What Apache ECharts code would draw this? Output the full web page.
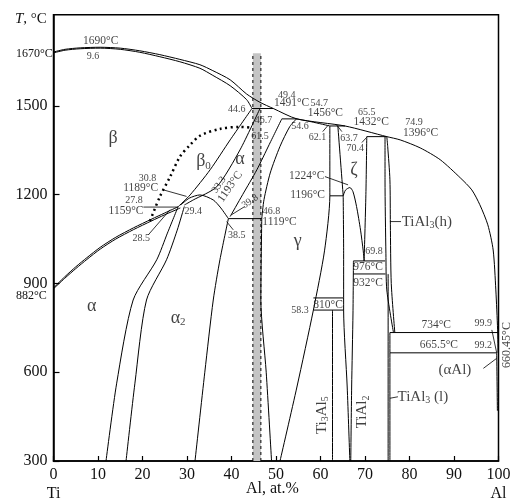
<!DOCTYPE html>
<html>
<head>
<meta charset="utf-8">
<script src="https://cdn.jsdelivr.net/npm/echarts@6/dist/echarts.min.js"></script>
<style>
  html, body { margin: 0; padding: 0; background: #fff; }
  #main { width: 521px; height: 499px; }
</style>
</head>
<body>
<div id="main"></div>
<script>
// axis ticks
const xTicks = [0, 10, 20, 30, 40, 50, 60, 70, 80, 90, 100];
const yTicks = [300, 600, 900, 1200, 1500];

// phase boundaries, [Al at.%, T °C]
const liquidus = [[0, 1682], [2.6, 1691], [6, 1696], [10.5, 1698], [15, 1695], [19.4, 1686], [23.9, 1673], [28.4, 1657], [32.9, 1639], [35.8, 1619], [39.7, 1588], [43.4, 1540], [46.4, 1512], [49.4, 1491], [54.7, 1456], [65.5, 1432], [74.9, 1396], [77.9, 1385], [82.4, 1358], [86.9, 1318], [91.4, 1257], [94.0, 1216], [95.8, 1166], [97.6, 1098], [98.8, 1013], [99.4, 878], [99.8, 743], [99.9, 665]];
const betaSolidus = [[0, 1679], [2.6, 1688], [6, 1693], [10.5, 1695], [15, 1691], [19.4, 1681], [23.9, 1666], [28.4, 1649], [32.9, 1627], [35.8, 1603], [39.7, 1568], [43.4, 1521], [44.6, 1491]];
const betaTransusA = [[0, 885], [2.5, 922], [5, 956], [7.5, 987], [10.5, 1022], [14, 1056], [18, 1088], [22, 1117], [25, 1138], [28.0, 1159]];
const betaTransusB = [[0, 882], [2.5, 917], [5, 950], [7.5, 981], [10.5, 1016], [14, 1050], [18, 1082], [22, 1111], [25, 1132], [28.5, 1155]];
const betaAlphaA = [[28.0, 1159], [30.7, 1199], [35.2, 1284], [39.7, 1385], [44.6, 1491]];
const betaAlphaB = [[29.4, 1165], [31.4, 1182], [36.7, 1227], [41.9, 1351], [46.4, 1491]];
const alphaAlpha2A = [[11.8, 300], [14.2, 563], [17.9, 844], [23.2, 980], [25.6, 1070], [28.0, 1159]];
const alphaAlpha2B = [[16.3, 300], [18.3, 563], [20.9, 844], [25.4, 980], [27.8, 1080], [29.4, 1160]];
const alpha2Dome = [[28.6, 1165], [30.5, 1188], [32.9, 1199], [35.9, 1182], [37.6, 1155], [39.3, 1119]];
const alpha2Right = [[39.3, 1119], [37.4, 980], [35.9, 844], [34.0, 600], [31.8, 300]];
const alphaGamma = [[39.7, 1126], [42.5, 1200], [45.7, 1284], [48.5, 1370], [51.3, 1456]];
const gammaAlpha = [[46.8, 1119], [47.3, 1183], [48.7, 1273], [50.9, 1363], [53.1, 1430], [54.6, 1456]];
const gammaLeftLow = [[46.8, 1119], [46.6, 844], [47.8, 600], [49.0, 300]];
const gammaSolidus = [[54.6, 1456], [58.0, 1446], [62.1, 1432]];
const gammaRight = [[62.1, 1432], [62.1, 1196], [60.9, 1010], [58.4, 810], [54.7, 550], [50.9, 300]];
const zetaLeft = [[63.9, 1432], [65.1, 1196]];
const zetaRight = [[70.4, 1396], [70.2, 1200], [69.8, 976]];
const tial2Dome = [[65.1, 1196], [65.6, 1215], [66.6, 1224], [67.3, 1210], [68.1, 1160], [69.0, 1080], [69.6, 1010], [69.8, 976]];
const tial2Left = [[65.1, 1196], [65.2, 1000], [65.2, 810], [66.0, 550], [66.6, 300]];
const tial2Right = [[67.4, 976], [67.3, 800], [67.0, 550], [66.8, 300]];
const ti3al5 = [[62.7, 810], [62.7, 300]];
const tial3hLeft = [[74.5, 1396], [74.5, 1250], [74.7, 1000], [74.9, 878], [76.4, 734]];
const tial3hRight = [[74.9, 1396], [75.1, 1363], [75.6, 1250], [75.7, 1100], [75.9, 900], [76.7, 734]];
const tial3lLeft = [[75.2, 932], [75.2, 300]];
const tial3lRight = [[75.6, 734], [75.6, 300]];
const alSolvus = [[99.6, 665.5], [99.75, 470]];
const orderBeta = [[21.7, 1111], [23.9, 1193], [26.2, 1260], [28.4, 1328], [30.7, 1368], [32.9, 1399], [37.4, 1422], [41.9, 1429], [44.6, 1426]];

// invariant lines
const isotherms = [
  [[44.6, 1491], [49.4, 1491]],
  [[51.3, 1456], [54.7, 1456]],
  [[62.1, 1432], [65.5, 1432]],
  [[70.4, 1396], [74.9, 1396]],
  [[62.1, 1196], [65.1, 1196]],
  [[39.3, 1119], [46.8, 1119]],
  [[67.4, 976], [74.5, 976]],
  [[67.4, 932], [74.6, 932]],
  [[58.4, 810], [65.2, 810]],
  [[58.4, 851], [65.2, 851]],
  [[75.6, 734], [100, 734]],
  [[75.6, 665.5], [99.6, 665.5]]
];

// label leader lines
const leaders = [
  [[20.2, 1158], [28.0, 1158]],
  [[24.7, 1216], [29.9, 1194]],
  [[21.3, 1064], [26.2, 1149]],
  [[38.9, 1109], [40.4, 1081]],
  [[40.0, 1132], [43.0, 1160]],
  [[60.5, 1413], [61.8, 1436]],
  [[64.8, 1413], [63.6, 1436]],
  [[69.3, 1376], [70.4, 1394]],
  [[61.0, 1261], [66.2, 1233]],
  [[75.6, 1109], [78.1, 1109]],
  [[75.6, 512], [77.4, 517]],
  [[96.6, 613], [99.6, 647]],
  [[98.5, 743], [99.6, 665]]
];

// measured alloy band
const bandX = [44.8, 46.6];
const bandT = [300, 1678];

// text: [content, x, T, size, rotate]
const labels = [
  ['1690°C', 10.6, 1718, 11.5, 0],
  ['9.6', 8.9, 1667, 10, 0],
  ['{g|β}', 13.4, 1392, 18, 0],
  ['30.8', 21.1, 1256, 10, 0],
  ['1189°C', 19.6, 1222, 11.5, 0],
  ['27.8', 18.1, 1179, 10, 0],
  ['1159°C', 16.3, 1145, 11.5, 0],
  ['28.5', 19.7, 1051, 10, 0],
  ['{g|β}{gs|0}', 33.7, 1312, 18, 0],
  ['{g|α}', 41.9, 1318, 18, 0],
  ['44.6', 41.2, 1487, 10, 0],
  ['49.4', 52.4, 1537, 10, 0],
  ['1491°C', 53.5, 1511, 11.5, 0],
  ['54.7', 59.7, 1507, 10, 0],
  ['1456°C', 61.1, 1476, 11.5, 0],
  ['46.7', 47.2, 1451, 10, 0],
  ['61.5', 46.4, 1396, 10, 0],
  ['54.6', 55.4, 1430, 10, 0],
  ['62.1', 59.3, 1394, 10, 0],
  ['65.5', 70.4, 1479, 10, 0],
  ['1432°C', 71.4, 1447, 11.5, 0],
  ['74.9', 81.0, 1444, 10, 0],
  ['1396°C', 82.5, 1410, 11.5, 0],
  ['63.7', 66.4, 1391, 10, 0],
  ['70.4', 67.8, 1357, 10, 0],
  ['{g|ζ}', 67.5, 1284, 18, 0],
  ['1224°C', 56.9, 1264, 11.5, 0],
  ['1196°C', 57.1, 1199, 11.5, 0],
  ['33.3', 37.2, 1233, 10, 55],
  ['1193°C', 39.7, 1227, 11.5, 55],
  ['39.8', 44.2, 1177, 10, 35],
  ['46.8', 49.0, 1143, 10, 0],
  ['1119°C', 50.8, 1106, 11.5, 0],
  ['38.5', 41.2, 1064, 10, 0],
  ['29.4', 31.4, 1143, 10, 0],
  ['{g|γ}', 54.9, 1041, 18, 0],
  ['{g|α}', 8.6, 822, 18, 0],
  ['{g|α}{gs|2}', 28.0, 783, 18, 0],
  ['{t|TiAl}{ts|3}{t|(h)}', 83.9, 1109, 15, 0],
  ['69.8', 72.0, 1008, 10, 0],
  ['976°C', 70.7, 955, 11.5, 0],
  ['932°C', 70.7, 903, 11.5, 0],
  ['58.3', 55.4, 810, 10, 0],
  ['810°C', 61.7, 827, 11.5, 0],
  ['734°C', 86.0, 760, 11.5, 0],
  ['665.5°C', 86.6, 692, 11.5, 0],
  ['99.9', 96.6, 766, 10, 0],
  ['99.2', 96.6, 692, 10, 0],
  ['{t|(αAl)}', 90.2, 608, 15, 0],
  ['{t|TiAl}{ts|3}{t| (l)}', 83.0, 517, 15, 0],
  ['660.45°C', 101.8, 692, 12, 90],
  ['{t|Ti}{ts|3}{t|Al}{ts|5}', 60.3, 455, 15, 90],
  ['{t|TiAl}{ts|2}', 69.3, 466, 15, 90]
];

const FONT = '"Liberation Serif", "DejaVu Serif", serif';
const rich = {
  g: { fontFamily: FONT, fontSize: 18, color: '#111', lineHeight: 20 },
  gs: { fontFamily: FONT, fontSize: 11, color: '#111', lineHeight: 20, verticalAlign: 'bottom' },
  t: { fontFamily: FONT, fontSize: 15, color: '#111', lineHeight: 18 },
  ts: { fontFamily: FONT, fontSize: 10, color: '#111', lineHeight: 18, verticalAlign: 'bottom' }
};

function lineSeries(data, extra) {
  return Object.assign({
    type: 'line',
    data: data,
    symbol: 'none',
    showSymbol: false,
    silent: true,
    animation: false,
    lineStyle: { color: '#000', width: 1 },
    z: 3
  }, extra || {});
}

const curves = [liquidus, betaSolidus, betaTransusA, betaTransusB, betaAlphaA, betaAlphaB,
  alphaAlpha2A, alphaAlpha2B, alpha2Dome, alpha2Right, alphaGamma, gammaAlpha, gammaLeftLow,
  gammaSolidus, gammaRight, zetaLeft, zetaRight, tial2Dome, tial2Left, tial2Right, ti3al5,
  tial3hLeft, tial3hRight, tial3lLeft, tial3lRight, alSolvus];

const series = [];
curves.forEach(function (c) { series.push(lineSeries(c, { smooth: 0.25 })); });
isotherms.forEach(function (c) { series.push(lineSeries(c)); });
leaders.forEach(function (c) { series.push(lineSeries(c, { lineStyle: { color: '#000', width: 0.8 } })); });
series.push(lineSeries(orderBeta, { smooth: 0.3, lineStyle: { color: '#000', width: 2.5, type: [2, 3.5] } }));

// gray band with dashed edges
series.push(lineSeries([[bandX[0], bandT[0]], [bandX[0], bandT[1]]], {
  lineStyle: { color: '#000', width: 1, type: [3, 3] },
  z: 2,
  markArea: {
    silent: true,
    itemStyle: { color: '#c4c4c4' },
    data: [[{ coord: [bandX[0], bandT[0]] }, { coord: [bandX[1], bandT[1]] }]]
  }
}));
series.push(lineSeries([[bandX[1], bandT[0]], [bandX[1], bandT[1]]], {
  lineStyle: { color: '#000', width: 1, type: [3, 3] }, z: 2
}));

series.push({
  type: 'scatter',
  symbolSize: 0,
  clip: false,
  silent: true,
  animation: false,
  z: 5,
  data: labels.map(function (l) {
    return {
      value: [l[1], l[2]],
      label: {
        show: true,
        position: 'inside',
        formatter: l[0],
        fontFamily: FONT,
        fontSize: l[3],
        color: '#111',
        rotate: l[4],
        rich: rich
      }
    };
  })
});

const chart = echarts.init(document.getElementById('main'), null, { renderer: 'canvas' });
chart.setOption({
  backgroundColor: '#fff',
  animation: false,
  grid: {
    left: 53.5, right: 22.5, top: 14.7, bottom: 38,
    show: true, borderColor: '#000', borderWidth: 1.5,
    outerBoundsMode: 'none'
  },
  xAxis: {
    type: 'value',
    min: 0, max: 100, interval: 10,
    axisLine: { lineStyle: { color: '#000', width: 1.5 } },
    axisTick: { inside: true, length: 5, lineStyle: { color: '#000', width: 1.2 } },
    splitLine: { show: false },
    axisLabel: {
      margin: 4,
      fontFamily: FONT, fontSize: 16, color: '#111', lineHeight: 19,
      formatter: function (v) {
        if (v === 0) return '0\nTi';
        if (v === 100) return '100\nAl';
        return String(v);
      },
      customValues: xTicks
    }
  },
  yAxis: {
    type: 'value',
    min: 300, max: 1808, interval: 300,
    axisLine: { lineStyle: { color: '#000', width: 1.5 } },
    axisTick: { inside: true, length: 6, lineStyle: { color: '#000', width: 1.2 }, customValues: yTicks },
    splitLine: { show: false },
    axisLabel: {
      margin: 6, fontFamily: FONT, fontSize: 16, color: '#111', customValues: yTicks,
      formatter: function (v) { return String(v); }
    }
  },
  graphic: [
    { type: 'text', left: 15, top: 12, style: { text: '{i|T}, °C', font: '15px ' + FONT, fill: '#111',
      rich: { i: { fontStyle: 'italic', fontFamily: FONT, fontSize: 15 } } } },
    { type: 'text', left: 16, top: 48, style: { text: '1670°C', font: '12px ' + FONT, fill: '#111' } },
    { type: 'text', left: 16, top: 290, style: { text: '882°C', font: '12px ' + FONT, fill: '#111' } },
    { type: 'text', left: 246, top: 481, style: { text: 'Al, at.%', font: '16px ' + FONT, fill: '#111' } }
  ],
  series: series
});
</script>
</body>
</html>
